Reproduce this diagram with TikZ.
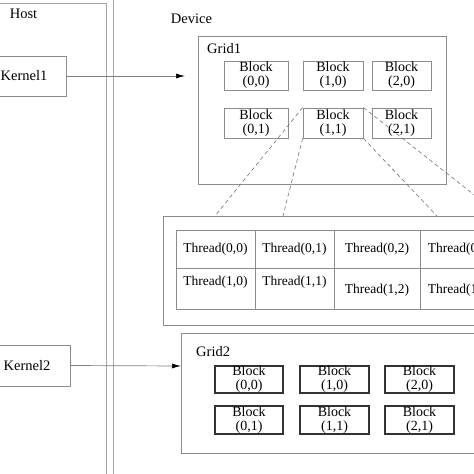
\documentclass[tikz,border=0pt]{standalone}
\usepackage{fontspec}
\setmainfont{Liberation Serif}
\usetikzlibrary{arrows.meta}
\begin{document}
\begin{tikzpicture}[x=1pt,y=-1pt,
  outer/.style={draw=black!35, line width=0.9pt},
  frame/.style={draw=black!45, line width=0.7pt},
  lbl/.style={font=\fontsize{14.5}{16}\selectfont, inner sep=0pt},
  blk/.style={draw=black!45, line width=0.8pt, inner sep=0pt, align=center,
    font=\fontsize{14}{14}\selectfont},
  blkb/.style={draw=black!80, line width=1.1pt, inner sep=0pt, align=center,
    font=\fontsize{14}{14}\selectfont},
  cell/.style={inner sep=0pt, font=\fontsize{13.5}{15}\selectfont},
  conn/.style={draw=black!50, line width=0.7pt, -{Latex[length=9pt,width=5pt,black]}},
  dsh/.style={draw=black!55, line width=0.6pt, dashed, dash pattern=on 4pt off 3pt}
]
\useasboundingbox (0,0) rectangle (474,474);
\clip (0,0) rectangle (474,474);
\fill[white] (0,0) rectangle (474,474);

% Host and device
\node[outer, minimum width=116pt, minimum height=497pt, inner sep=0pt] (host) at (48,251.5) {};
\node[outer, minimum width=387pt, minimum height=510pt, inner sep=0pt] (device) at (306.5,245) {};
\node[lbl] (hostl) at (23.5,14) {Host};
\node[lbl] (devl) at (191.5,19) {Device};

% Kernels
\node[frame, minimum width=76pt, minimum height=40pt, inner sep=0pt] (k1box) at (28,76) {};
\node[lbl] (k1) at (24,76) {Kernel1};
\node[frame, minimum width=80pt, minimum height=41pt, inner sep=0pt] (k2box) at (30,365.5) {};
\node[lbl] (k2) at (27,366) {Kernel2};

% Grid1
\node[frame, minimum width=248pt, minimum height=148pt, inner sep=0pt] (grid1) at (322,110) {};
\node[lbl, anchor=west] (g1l) at (207,49) {Grid1};
\node[blk, minimum width=64pt, minimum height=29pt] (a00) at (256,75.5) {Block\\(0,0)};
\node[blk, minimum width=60pt, minimum height=29pt] (a10) at (333,75.5) {Block\\(1,0)};
\node[blk, minimum width=59pt, minimum height=29pt] (a20) at (401.5,75.5) {Block\\(2,0)};
\node[blk, minimum width=64pt, minimum height=30pt] (a01) at (256,123) {Block\\(0,1)};
\node[blk, minimum width=60pt, minimum height=30pt] (a11) at (333,123) {Block\\(1,1)};
\node[blk, minimum width=59pt, minimum height=30pt] (a21) at (401.5,123) {Block\\(2,1)};

% Thread panel
\node[frame, minimum width=347pt, minimum height=109pt, inner sep=0pt] (tpanel) at (336.5,270.5) {};
\draw[frame] (176,230) rectangle (500,309);
\draw[frame] (176,268) -- (500,268);
\draw[frame] (255,230) -- (255,309);
\draw[frame] (334,230) -- (334,309);
\draw[frame] (420,230) -- (420,309);
\node[cell] (t00) at (215.5,249) {Thread(0,0)};
\node[cell] (t01) at (294.5,249) {Thread(0,1)};
\node[cell] (t02) at (377,249) {Thread(0,2)};
\node[cell] (t03) at (460,249) {Thread(0,3)};
\node[cell] (t10) at (215.5,282) {Thread(1,0)};
\node[cell] (t11) at (294.5,282) {Thread(1,1)};
\node[cell] (t12) at (377,290) {Thread(1,2)};
\node[cell] (t13) at (460,290) {Thread(1,3)};

% Dashed zoom lines
\coordinate (d1) at (215,216);
\coordinate (d2) at (283,216);
\coordinate (d3) at (437,216);
\coordinate (d4) at (501,216);
\draw[dsh] (a11.north west) -- (d1);
\draw[dsh] (a11.south west) -- (d2);
\draw[dsh] (a11.south east) -- (d3);
\draw[dsh] (a11.north east) -- (d4);

% Grid2
\node[frame, minimum width=320pt, minimum height=120pt, inner sep=0pt] (grid2) at (341,393) {};
\node[lbl, anchor=west] (g2l) at (196,352) {Grid2};
\node[blkb, minimum width=68pt, minimum height=27pt] (b00) at (249,379.5) {Block\\(0,0)};
\node[blkb, minimum width=69pt, minimum height=27pt] (b10) at (334.5,379.5) {Block\\(1,0)};
\node[blkb, minimum width=69pt, minimum height=27pt] (b20) at (419.5,379.5) {Block\\(2,0)};
\node[blkb, minimum width=68pt, minimum height=28pt] (b01) at (249,420) {Block\\(0,1)};
\node[blkb, minimum width=69pt, minimum height=28pt] (b11) at (334.5,420) {Block\\(1,1)};
\node[blkb, minimum width=69pt, minimum height=28pt] (b21) at (419.5,420) {Block\\(2,1)};

% Launch arrows
\coordinate (e1) at (185,76);
\coordinate (e2) at (181,366);
\draw[conn] (k1box.east) -- (e1);
\draw[conn] (k2box.east) -- (e2);
\end{tikzpicture}
\end{document}
